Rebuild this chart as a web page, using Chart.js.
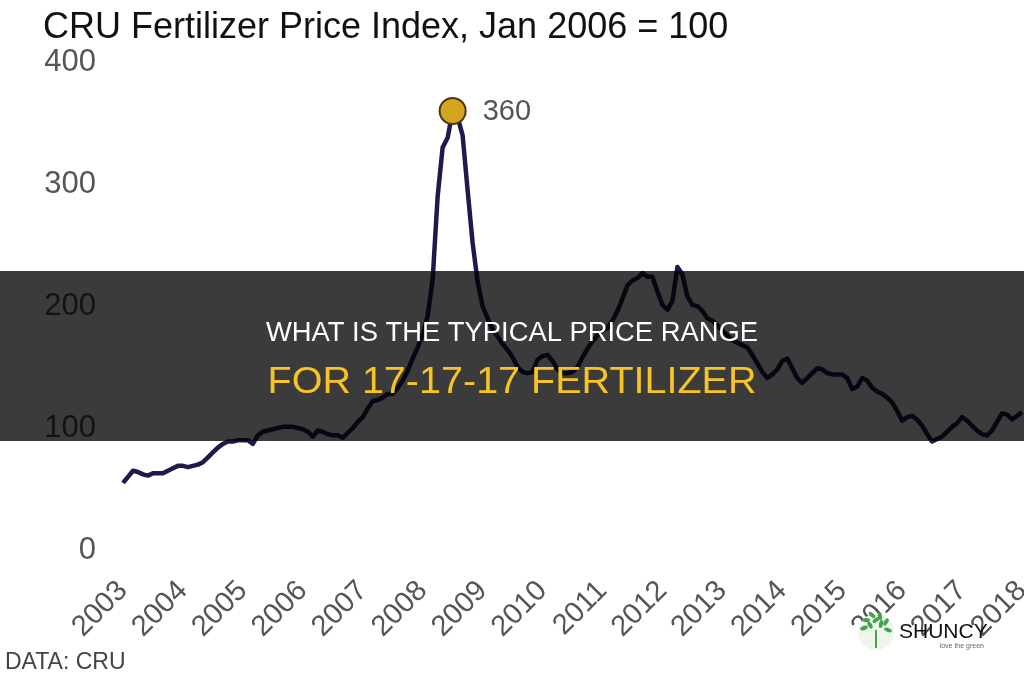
<!DOCTYPE html>
<html>
<head>
<meta charset="utf-8">
<style>
  html, body { margin: 0; padding: 0; background: #fff; overflow: hidden; }
  #wrap { width: 1024px; height: 680px; }
</style>
<script src="https://cdn.jsdelivr.net/npm/chart.js@4.4.1/dist/chart.umd.min.js"></script>
</head>
<body>
<div id="wrap"><canvas id="canvas" width="1024" height="680"></canvas></div>
<script>
const years = ['2003', '2004', '2005', '2006', '2007', '2008', '2009', '2010',
  '2011', '2012', '2013', '2014', '2015', '2016', '2017', '2018']

// monthly index values, Jan..Dec
const v2003 = [55, 60, 65, 64, 62, 61, 63, 63, 63, 65, 67, 69]
const v2004 = [69, 68, 69, 70, 72, 76, 80, 84, 87, 89, 89, 90]
const v2005 = [90, 90, 87, 94, 97, 98, 99, 100, 101, 101, 101, 100]
const v2006 = [99, 97, 93, 98, 97, 95, 94, 94, 92, 96, 100, 105]
const v2007 = [109, 116, 122, 123, 125, 128, 128, 133, 139, 147, 157, 166]
const v2008 = [177, 192, 222, 290, 330, 338, 360, 355, 340, 295, 252, 220]
const v2009 = [200, 190, 181, 175, 169, 164, 158, 150, 146, 145, 146, 156]
const v2010 = [159, 160, 155, 148, 145, 145, 146, 150, 158, 165, 171, 176]
const v2011 = [180, 182, 188, 196, 206, 217, 221, 223, 227, 224, 224, 212]
const v2012 = [201, 197, 204, 232, 226, 208, 201, 200, 196, 190, 188, 184]
const v2013 = [180, 176, 172, 170, 168, 166, 160, 153, 146, 141, 144, 148]
const v2014 = [155, 157, 149, 141, 137, 141, 145, 149, 148, 145, 144, 144]
const v2015 = [144, 141, 132, 134, 141, 139, 133, 130, 128, 125, 121, 114]
const v2016 = [106, 109, 110, 107, 102, 95, 89, 91, 93, 97, 101, 104]
const v2017 = [109, 106, 102, 98, 95, 94, 98, 105, 112, 111, 107, 110]
const v2018 = [113]

const yTicks = [0, 100, 200, 300, 400]

const values = [].concat(v2003, v2004, v2005, v2006, v2007, v2008, v2009, v2010,
  v2011, v2012, v2013, v2014, v2015, v2016, v2017, v2018)
const labels = values.map((v, i) => years[Math.floor(i / 12)] + '-' + (i % 12 + 1))
const peakIdx = values.indexOf(Math.max(...values))

const FONT = '"Liberation Sans", Arial, sans-serif'

// peak label, caption, banner and logo
const overlay = {
  id: 'overlay',
  afterDatasetsDraw(chart) {
    const ctx = chart.ctx
    const pt = chart.getDatasetMeta(0).data[peakIdx]
    ctx.save()
    ctx.fillStyle = '#555'
    ctx.font = '29px ' + FONT
    ctx.textAlign = 'left'
    ctx.textBaseline = 'middle'
    ctx.fillText(String(values[peakIdx]), pt.x + 30, pt.y + 1)
    ctx.restore()
  },
  afterDraw(chart) {
    const ctx = chart.ctx
    ctx.save()
    ctx.fillStyle = '#444'
    ctx.font = '23px ' + FONT
    ctx.textBaseline = 'middle'
    ctx.fillText('DATA: CRU', 5, 663)

    // banner
    ctx.fillStyle = 'rgba(0,0,0,0.77)'
    ctx.fillRect(0, 271, 1024, 170)
    const line = (text, size, color, cy, w) => {
      ctx.font = size + 'px ' + FONT
      const m = ctx.measureText(text).width
      ctx.save()
      ctx.translate(512, cy)
      ctx.scale(w / m, 1)
      ctx.fillStyle = color
      ctx.textAlign = 'center'
      ctx.textBaseline = 'middle'
      ctx.fillText(text, 0, 0)
      ctx.restore()
    }
    line('WHAT IS THE TYPICAL PRICE RANGE', 27, '#ffffff', 334, 492)
    line('FOR 17-17-17 FERTILIZER', 37, '#f7c427', 383, 489)

    // logo
    ctx.fillStyle = '#eef5ea'
    ctx.beginPath()
    ctx.arc(876, 632, 18, 0, Math.PI * 2)
    ctx.fill()
    ctx.fillStyle = '#3fa44a'
    const leaves = [[-10, -8], [-4, -13], [4, -12], [10, -6], [-12, 0], [12, 2], [-6, -3], [5, -4], [0, -8]]
    leaves.forEach(([dx, dy], k) => {
      ctx.beginPath()
      ctx.ellipse(876 + dx, 628 + dy, 4, 2, k * 0.7, 0, Math.PI * 2)
      ctx.fill()
    })
    ctx.fillRect(875, 630, 2, 18)
    ctx.fillStyle = '#111'
    ctx.font = '21px ' + FONT
    ctx.textAlign = 'left'
    ctx.fillText('SHUNCY', 899, 632)
    ctx.fillStyle = '#666'
    ctx.font = '7px ' + FONT
    ctx.textAlign = 'right'
    ctx.fillText('love the green', 984, 646)
    ctx.restore()
  }
}

const data = {
  labels: labels,
  datasets: [
    {
      label: 'CRU',
      data: values,
      borderColor: '#1e1a4d',
      borderWidth: 4.5,
      borderJoinStyle: 'round',
      tension: 0,
      pointRadius: (c) => c.dataIndex === peakIdx ? 13 : 0,
      pointHoverRadius: (c) => c.dataIndex === peakIdx ? 13 : 0,
      pointBackgroundColor: '#d6a51e',
      pointBorderColor: '#4a3810',
      pointBorderWidth: 2,
    },
  ],
}

const config = {
  type: 'line',
  data: data,
  options: {
    responsive: false,
    animation: false,
    events: [],
    layout: { padding: { left: 43, right: 2, top: 0, bottom: 0 } },
    plugins: {
      legend: { display: false },
      tooltip: { enabled: false },
      title: {
        display: true,
        text: 'CRU Fertilizer Price Index, Jan 2006 = 100',
        align: 'start',
        color: '#111',
        font: { family: FONT, size: 36, weight: 'normal', lineHeight: 1.2 },
        padding: { top: 6, bottom: 13 },
      },
    },
    scales: {
      x: {
        grid: { display: false, drawTicks: false },
        border: { display: false },
        ticks: {
          autoSkip: false,
          minRotation: 45,
          maxRotation: 45,
          padding: 24,
          color: '#555',
          font: { family: FONT, size: 29 },
          callback: (v, i) => i % 12 === 0 ? years[i / 12] : null,
        },
        afterFit: (s) => { s.height = 130; s.paddingLeft = 0; s.paddingRight = 0 },
      },
      y: {
        min: 0,
        max: 400,
        grid: { display: false, drawTicks: false },
        border: { display: false },
        afterBuildTicks: (s) => { s.ticks = yTicks.map(v => ({ value: v })) },
        ticks: {
          padding: 27,
          color: '#555',
          font: { family: FONT, size: 31 },
        },
        afterFit: (s) => { s.width = 80 },
      },
    },
  },
  plugins: [overlay],
}

const canvas = document.getElementById('canvas')
const chart = new Chart(canvas, config)
</script>
</body>
</html>
